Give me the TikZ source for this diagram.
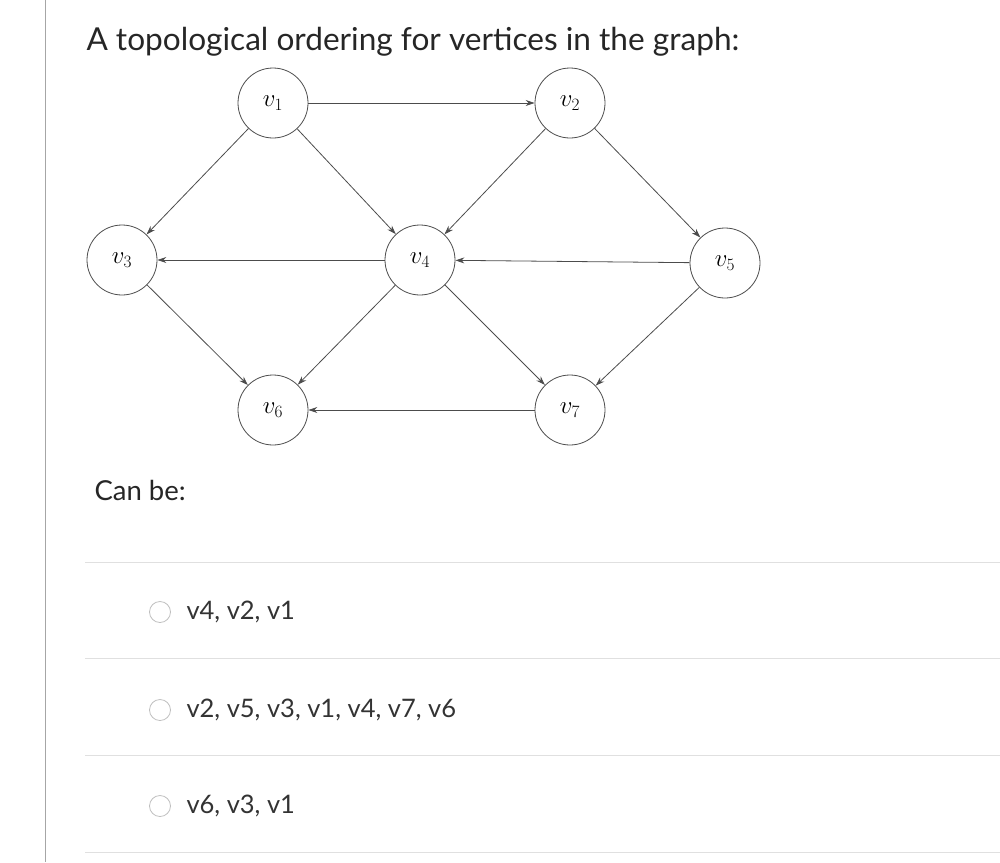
\documentclass[tikz,border=0pt]{standalone}
\usepackage{fontspec}
\setmainfont{Lato}
\usetikzlibrary{arrows.meta}
\begin{document}
\begin{tikzpicture}[x=1pt,y=-1pt,
  vert/.style={circle,draw=black!70,line width=0.8pt,minimum size=70pt,inner sep=0pt,font=\fontsize{27}{29}\selectfont},
  edge/.style={draw=black!70,line width=0.8pt,-{Stealth[length=9pt,width=6pt]}},
  sep/.style={draw=black!12,line width=0.8pt},
  radio/.style={circle,draw=black!25,line width=0.8pt,minimum size=21pt,inner sep=0pt},
  opt/.style={anchor=west,font=\fontsize{25.5}{28}\selectfont,text=black!80}]
\useasboundingbox (0,0) rectangle (1000,862);
\draw[draw=black!35,line width=1pt] (45,0) -- (45,862);
\node[anchor=west,font=\fontsize{31.6}{34}\selectfont,text=black!85] (title) at (83,42) {A topological ordering for vertices in the graph:};
\node[vert] (v1) at (273,103) {$v_1$};
\node[vert] (v2) at (570,103) {$v_2$};
\node[vert] (v3) at (122,260) {$v_3$};
\node[vert] (v4) at (420,260) {$v_4$};
\node[vert] (v5) at (725,263) {$v_5$};
\node[vert] (v6) at (273,410) {$v_6$};
\node[vert] (v7) at (570,410) {$v_7$};
\path[edge] (v1) -- (v2);
\path[edge] (v1) -- (v3);
\path[edge] (v1) -- (v4);
\path[edge] (v2) -- (v4);
\path[edge] (v2) -- (v5);
\path[edge] (v4) -- (v3);
\path[edge] (v5) -- (v4);
\path[edge] (v3) -- (v6);
\path[edge] (v4) -- (v6);
\path[edge] (v4) -- (v7);
\path[edge] (v5) -- (v7);
\path[edge] (v7) -- (v6);
\node[anchor=west,font=\fontsize{27.5}{30}\selectfont,text=black!85] (canbe) at (91,490) {Can be:};
\coordinate (s1a) at (85,562); \coordinate (s1b) at (1000,562);
\coordinate (s2a) at (85,658); \coordinate (s2b) at (1000,658);
\coordinate (s3a) at (85,755); \coordinate (s3b) at (1000,755);
\coordinate (s4a) at (85,852); \coordinate (s4b) at (1000,852);
\draw[sep] (s1a) -- (s1b);
\draw[sep] (s2a) -- (s2b);
\draw[sep] (s3a) -- (s3b);
\draw[sep] (s4a) -- (s4b);
\node[radio] (r1) at (160,612) {};
\node[radio] (r2) at (160,710) {};
\node[radio] (r3) at (160,806) {};
\node[opt] (o1) at (183,612) {v4, v2, v1};
\node[opt] (o2) at (183,710) {v2, v5, v3, v1, v4, v7, v6};
\node[opt] (o3) at (183,806) {v6, v3, v1};
\end{tikzpicture}
\end{document}
